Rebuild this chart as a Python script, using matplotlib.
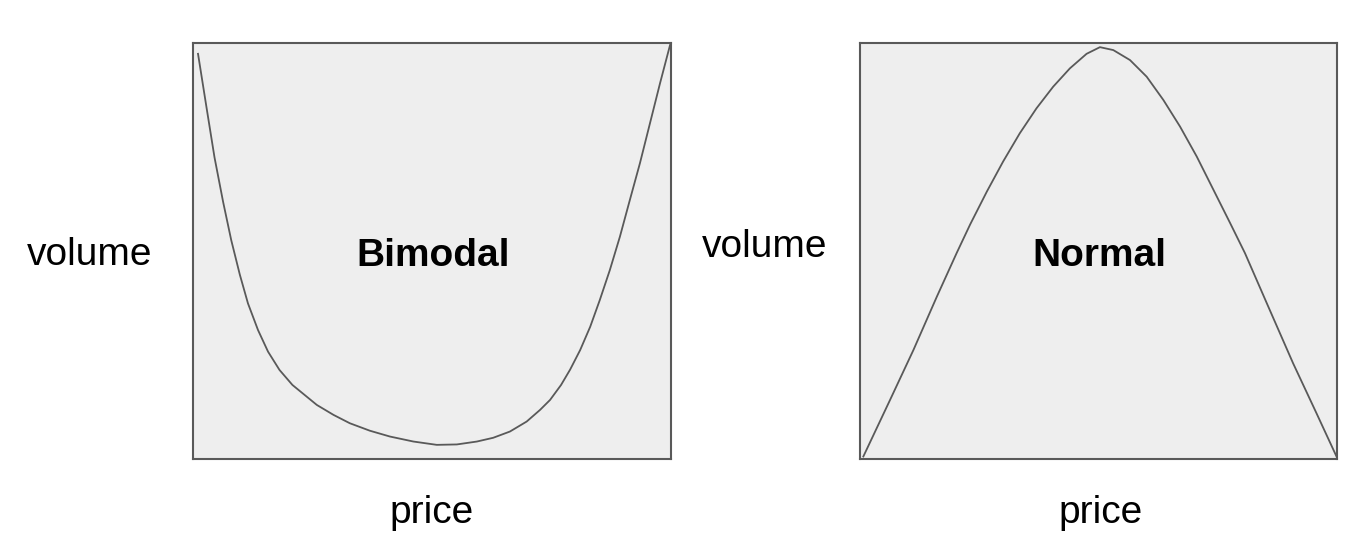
import matplotlib.pyplot as plt

# 数据：价格-成交量示意曲线（坐标范围 0~100）
bimodal_price = [1.05, 2.8, 4.5, 6.3, 8.0, 9.8, 11.5, 13.6, 15.7, 18.1, 20.8,
                 25.9, 29.4, 32.8, 37.0, 41.2, 46.1, 51.0, 55.2, 59.4, 62.8,
                 66.3, 69.8, 72.6, 74.7, 77.0, 78.9, 81.0, 83.1, 85.1, 87.2,
                 89.3, 91.4, 93.5, 95.6, 97.7, 99.8]
bimodal_volume = [97.4, 84.7, 72.5, 61.8, 52.6, 44.3, 37.4, 31.0, 25.8, 21.4, 17.8,
                  13.0, 10.6, 8.6, 6.8, 5.4, 4.2, 3.4, 3.5, 4.2, 5.1,
                  6.6, 9.0, 11.8, 14.2, 17.8, 21.5, 26.2, 31.8, 38.2, 45.4,
                  53.4, 62.3, 71.1, 80.7, 90.3, 99.5]

normal_price = [0.7, 6.3, 11.2, 16.1, 20.3, 23.1, 26.6, 30.0, 33.5, 37.0, 40.5,
                44.0, 47.5, 50.3, 53.1, 56.6, 60.1, 63.6, 67.1, 70.6, 74.1,
                77.6, 80.7, 85.3, 90.8, 95.7, 99.9]
normal_volume = [0.6, 14.2, 26.2, 39.0, 49.6, 56.4, 64.3, 71.5, 78.3, 84.3, 89.5,
                 93.9, 97.4, 99.0, 98.3, 95.9, 91.9, 86.3, 79.9, 72.7, 64.7,
                 56.7, 49.5, 37.4, 23.0, 11.0, 0.6]

titles = ['Bimodal', 'Normal']

plt.rcParams['font.family'] = ['Liberation Sans', 'DejaVu Sans']

fig = plt.figure(figsize=(13.64, 5.42), dpi=100)
line_col = '#595959'

ax1 = fig.add_axes([193 / 1364, 83 / 542, 478 / 1364, 416 / 542])
ax2 = fig.add_axes([860 / 1364, 83 / 542, 477 / 1364, 416 / 542])

for ax, xs, ys, title in [(ax1, bimodal_price, bimodal_volume, titles[0]),
                          (ax2, normal_price, normal_volume, titles[1])]:
    ax.set_facecolor('#eeeeee')
    ax.plot(xs, ys, color=line_col, linewidth=1.3, solid_joinstyle='round')
    ax.set_xlim(0, 100)
    ax.set_ylim(0, 100)
    ax.set_xticks([])
    ax.set_yticks([])
    for sp in ax.spines.values():
        sp.set_color(line_col)
        sp.set_linewidth(1.5)
    ax.text(0.502, 0.488, title, transform=ax.transAxes, ha='center', va='center',
            fontsize=28, fontweight='bold', color='black')

# 坐标轴标签
fig.text(89.5 / 1364, 1 - 255 / 542, 'volume', ha='center', va='center', fontsize=28)
fig.text(765 / 1364, 1 - 247 / 542, 'volume', ha='center', va='center', fontsize=28)
fig.text(432 / 1364, 1 - 513 / 542, 'price', ha='center', va='center', fontsize=28)
fig.text(1101 / 1364, 1 - 513 / 542, 'price', ha='center', va='center', fontsize=28)

plt.savefig('out.png', dpi=100)
